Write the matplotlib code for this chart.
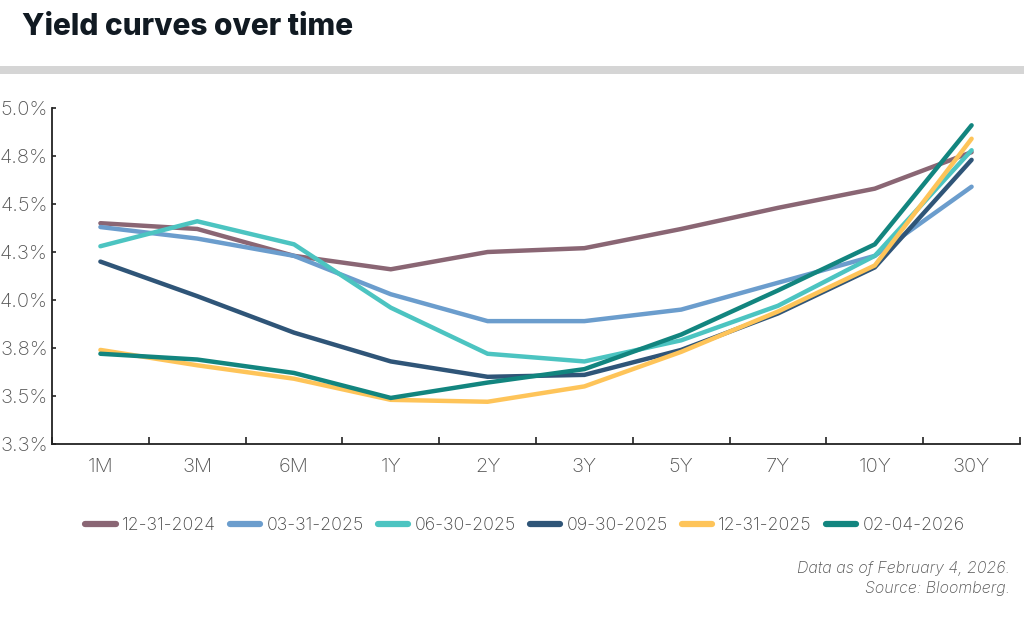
import matplotlib
matplotlib.use("Agg")
import matplotlib.pyplot as plt
from matplotlib.lines import Line2D
from matplotlib.patches import Rectangle

tenors = ["1M", "3M", "6M", "1Y", "2Y", "3Y", "5Y", "7Y", "10Y", "30Y"]
labels = ["12-31-2024", "03-31-2025", "06-30-2025", "09-30-2025", "12-31-2025", "02-04-2026"]
y_2024_12 = [4.40, 4.37, 4.23, 4.16, 4.25, 4.27, 4.37, 4.48, 4.58, 4.77]
y_2025_03 = [4.38, 4.32, 4.23, 4.03, 3.89, 3.89, 3.95, 4.09, 4.23, 4.59]
y_2025_06 = [4.28, 4.41, 4.29, 3.96, 3.72, 3.68, 3.79, 3.97, 4.23, 4.78]
y_2025_09 = [4.20, 4.02, 3.83, 3.68, 3.60, 3.61, 3.74, 3.93, 4.17, 4.73]
y_2025_12 = [3.74, 3.66, 3.59, 3.48, 3.47, 3.55, 3.73, 3.94, 4.18, 4.84]
y_2026_02 = [3.72, 3.69, 3.62, 3.49, 3.57, 3.64, 3.82, 4.05, 4.29, 4.91]
series = [y_2024_12, y_2025_03, y_2025_06, y_2025_09, y_2025_12, y_2026_02]
colors = ["#8a6674", "#6b9dcd", "#4cc4c1", "#2f5578", "#fec459", "#12857f"]
ytick_vals = [3.25, 3.5, 3.75, 4.0, 4.25, 4.5, 4.75, 5.0]
ytick_labels = ["3.3%", "3.5%", "3.8%", "4.0%", "4.3%", "4.5%", "4.8%", "5.0%"]

W, H = 1024, 635
fig = plt.figure(figsize=(W / 100, H / 100), dpi=100)
fig.patch.set_facecolor("white")

# title and grey band
fig.text(22 / W, 1 - 27 / H, "Yield curves over time", fontfamily="Inter",
         fontweight="heavy", fontsize=21.5, color="#111a22", va="center", ha="left")
fig.patches.append(Rectangle((0, 1 - 74 / H), 1, 8 / H, transform=fig.transFigure,
                             facecolor="#d5d5d5", edgecolor="none"))

ax = fig.add_axes([52 / W, 1 - 444 / H, (1020 - 52) / W, (444 - 108) / H])
x = list(range(len(tenors)))
for vals, c, lab in zip(series, colors, labels):
    ax.plot(x, vals, color=c, lw=3.2, label=lab, solid_joinstyle="miter",
            solid_capstyle="round")

ax.set_xlim(-0.5, len(tenors) - 0.5)
ax.set_ylim(3.25, 5.0)
ax.set_xticks(x)
ax.set_xticklabels(tenors)
ax.set_xticks([i - 0.5 for i in range(len(tenors) + 1)], minor=True)
ax.tick_params(axis="x", which="major", length=0, pad=10, labelsize=14.5,
               labelcolor="#555555")
ax.tick_params(axis="x", which="minor", direction="in", length=5, width=1.2,
               color="#222222")
ax.set_yticks(ytick_vals)
ax.set_yticklabels(ytick_labels)
ax.tick_params(axis="y", direction="in", length=3, width=1.2, color="#222222",
               labelsize=14.5, labelcolor="#555555", pad=3)
for t in ax.get_xticklabels() + ax.get_yticklabels():
    t.set_fontfamily("Inter")
    t.set_fontweight("light")
for s in ["top", "right"]:
    ax.spines[s].set_visible(False)
for s in ["left", "bottom"]:
    ax.spines[s].set_linewidth(1.3)
    ax.spines[s].set_color("#222222")

handles = [Line2D([0], [0], color=c, lw=4.5, solid_capstyle="round") for c in colors]
leg = fig.legend(handles, labels, loc="center", bbox_to_anchor=(525 / W, 1 - 526 / H),
                 ncol=6, frameon=False, handlelength=1.7, handletextpad=0.35,
                 columnspacing=0.8, prop={"family": "Inter", "size": 12.8, "weight": "light"})
for t in leg.get_texts():
    t.set_color("#444444")

fig.text(1010 / W, 1 - 569 / H, "Data as of February 4, 2026.", ha="right", va="center",
         fontfamily="Inter", style="italic", fontsize=11.5, color="#555555", fontweight="light")
fig.text(1010 / W, 1 - 589 / H, "Source: Bloomberg.", ha="right", va="center",
         fontfamily="Inter", style="italic", fontsize=11.5, color="#555555", fontweight="light")

fig.savefig("out.png", dpi=100, facecolor="white")
